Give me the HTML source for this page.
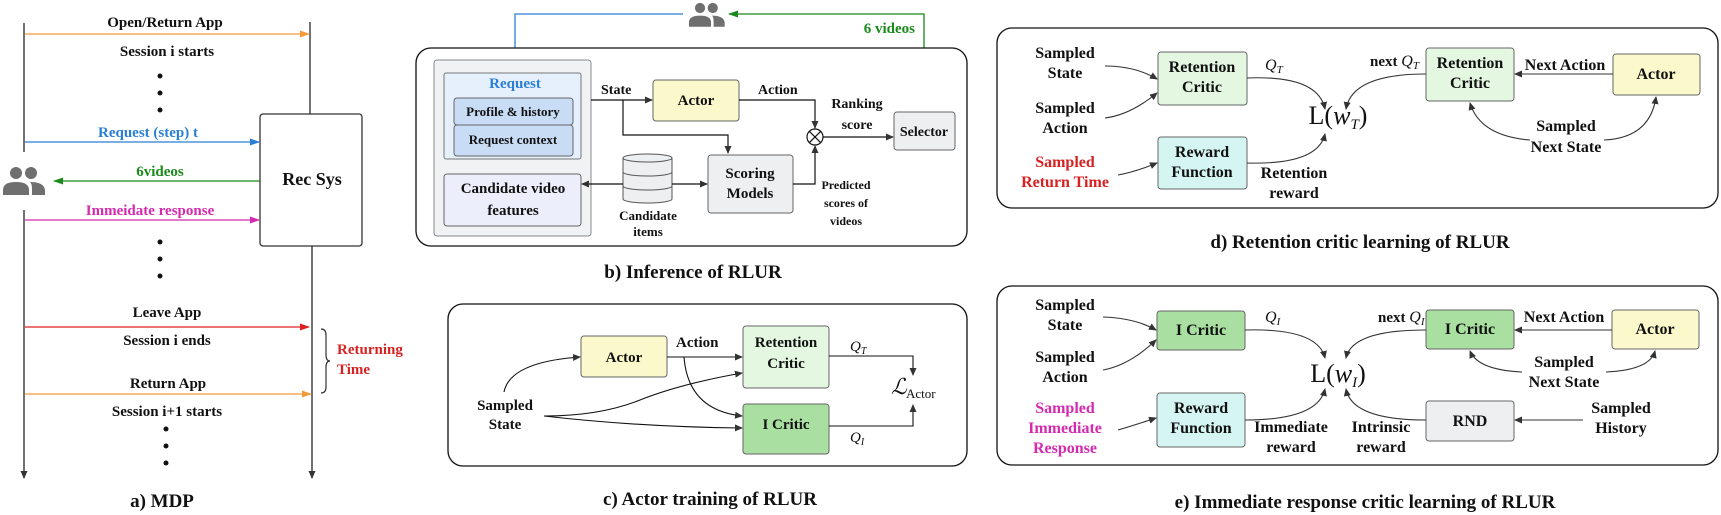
<!DOCTYPE html>
<html><head><meta charset="utf-8"><style>
html,body{margin:0;padding:0;background:#fff;}
svg{display:block;}
text{font-family:"Liberation Serif",serif;font-weight:bold;font-size:15px;fill:#111;}
.c{text-anchor:middle;}
.m{font-weight:normal;font-style:italic;}
.de text{font-size:16px;}
</style></head><body>
<svg width="1721" height="515" viewBox="0 0 1721 515" xmlns="http://www.w3.org/2000/svg">
<defs>
<marker id="ak" markerWidth="8" markerHeight="8" refX="7" refY="4" orient="auto" markerUnits="userSpaceOnUse"><path d="M0,0.5 L8,4 L0,7.5z" fill="#333"/></marker>
<marker id="ao" markerWidth="10" markerHeight="8" refX="9" refY="4" orient="auto" markerUnits="userSpaceOnUse"><path d="M0,0.5 L10,4 L0,7.5z" fill="#f39a3a"/></marker>
<marker id="ab" markerWidth="10" markerHeight="8" refX="9" refY="4" orient="auto" markerUnits="userSpaceOnUse"><path d="M0,0.5 L10,4 L0,7.5z" fill="#2a7fd6"/></marker>
<marker id="ag" markerWidth="10" markerHeight="8" refX="9" refY="4" orient="auto" markerUnits="userSpaceOnUse"><path d="M0,0.5 L10,4 L0,7.5z" fill="#1a8a1a"/></marker>
<marker id="am" markerWidth="10" markerHeight="8" refX="9" refY="4" orient="auto" markerUnits="userSpaceOnUse"><path d="M0,0.5 L10,4 L0,7.5z" fill="#d42ab0"/></marker>
<marker id="ar" markerWidth="10" markerHeight="8" refX="9" refY="4" orient="auto" markerUnits="userSpaceOnUse"><path d="M0,0.5 L10,4 L0,7.5z" fill="#e02020"/></marker>
<g id="usr" fill="#6f6f6f">
<circle cx="0" cy="0" r="6"/><circle cx="15" cy="0" r="6"/>
<path d="M-13,22 V17 Q-13,9 0,9 Q13,9 13,17 V22z"/>
<path d="M16,22 V17 Q16,10 14,9 Q28,9 29,17 V22z"/>
</g>
</defs>

<!-- Panel a -->
<g stroke="#444" stroke-width="1.5" fill="none">
<line x1="24" y1="23" x2="24" y2="152"/><line x1="24" y1="210" x2="24" y2="478" marker-end="url(#ak)"/>
<line x1="310" y1="22" x2="310" y2="114"/><line x1="312" y1="246" x2="312" y2="478" marker-end="url(#ak)"/>
</g>
<rect x="260" y="114" width="102" height="132" rx="3" fill="#fff" stroke="#333" stroke-width="1.3"/>
<text x="312" y="185" class="c" style="font-size:18px">Rec Sys</text>
<use href="#usr" x="16" y="173"/>
<line x1="25" y1="34" x2="309" y2="34" stroke="#f39a3a" stroke-width="1.3" marker-end="url(#ao)"/>
<line x1="25" y1="142" x2="259" y2="142" stroke="#2a7fd6" stroke-width="1.3" marker-end="url(#ab)"/>
<line x1="260" y1="181" x2="54" y2="181" stroke="#1a8a1a" stroke-width="1.3" marker-end="url(#ag)"/>
<line x1="25" y1="220" x2="259" y2="220" stroke="#d42ab0" stroke-width="1.3" marker-end="url(#am)"/>
<line x1="25" y1="327" x2="309" y2="327" stroke="#e02020" stroke-width="1.3" marker-end="url(#ar)"/>
<line x1="25" y1="394" x2="311" y2="394" stroke="#f39a3a" stroke-width="1.3" marker-end="url(#ao)"/>
<text x="165" y="27" class="c">Open/Return App</text>
<text x="167" y="56" class="c">Session i starts</text>
<text x="148" y="137" class="c" style="fill:#2a7fd6">Request (step) t</text>
<text x="160" y="176" class="c" style="fill:#1a8a1a">6videos</text>
<text x="150" y="215" class="c" style="fill:#d42ab0">Immeidate response</text>
<text x="167" y="317" class="c">Leave App</text>
<text x="167" y="345" class="c">Session i ends</text>
<text x="168" y="388" class="c">Return App</text>
<text x="167" y="416" class="c">Session i+1 starts</text>
<g fill="#111"><circle cx="160" cy="76" r="2.5"/><circle cx="160" cy="93" r="2.5"/><circle cx="160" cy="110" r="2.5"/>
<circle cx="160" cy="242" r="2.5"/><circle cx="160" cy="259" r="2.5"/><circle cx="160" cy="276" r="2.5"/>
<circle cx="166" cy="429" r="2.5"/><circle cx="166" cy="446" r="2.5"/><circle cx="166" cy="463" r="2.5"/></g>
<path d="M321,329 Q326,329 326,335 V355 Q326,361 330,361 Q326,361 326,367 V387 Q326,393 321,393" fill="none" stroke="#333" stroke-width="1.2"/>
<text x="337" y="354" style="fill:#d62222">Returning</text>
<text x="337" y="374" style="fill:#d62222">Time</text>
<text x="162" y="507" class="c" style="font-size:19px">a) MDP</text>

<!-- Panel b -->
<use href="#usr" transform="translate(700,8) scale(0.85)"/>
<polyline points="683,14 515,14 515,67" fill="none" stroke="#2a7fd6" stroke-width="1.3" marker-end="url(#ab)"/>
<polyline points="924,112 924,14 729,14" fill="none" stroke="#1a8a1a" stroke-width="1.3" marker-end="url(#ag)"/>
<text x="915" y="33" style="fill:#1a8a1a;text-anchor:end">6 videos</text>
<rect x="416" y="48" width="551" height="198" rx="15" fill="#fff" stroke="#111" stroke-width="1.3"/>
<rect x="434" y="60" width="157" height="176" rx="3" fill="#f1f2f4" stroke="#888"/>
<rect x="444" y="73" width="137" height="86" rx="2" fill="#e6f0fc" stroke="#777"/>
<text x="515" y="88" class="c" style="fill:#2a7fd6">Request</text>
<rect x="454" y="98" width="119" height="27" rx="3" fill="#c9dcf5" stroke="#666"/>
<rect x="454" y="125" width="119" height="31" rx="3" fill="#c9dcf5" stroke="#666"/>
<text x="513" y="116" class="c" style="font-size:13px">Profile &amp; history</text>
<text x="513" y="144" class="c" style="font-size:13px">Request context</text>
<rect x="444" y="174" width="137" height="52" rx="3" fill="#eceefb" stroke="#666"/>
<text x="513" y="193" class="c">Candidate video</text>
<text x="513" y="215" class="c">features</text>
<text x="601" y="94" style="font-size:14px">State</text>
<line x1="591" y1="100" x2="652" y2="100" stroke="#111" stroke-width="1.2" marker-end="url(#ak)"/>
<rect x="653" y="80" width="86" height="41" rx="3" fill="#fbf8cc" stroke="#666"/>
<text x="696" y="105" class="c">Actor</text>
<text x="758" y="94" style="font-size:14px">Action</text>
<polyline points="739,100 815,100 815,128" fill="none" stroke="#111" stroke-width="1.2" marker-end="url(#ak)"/>
<polyline points="623,100 623,135 728,135 728,153" fill="none" stroke="#111" stroke-width="1.2" marker-end="url(#ak)"/>
<circle cx="815" cy="137" r="8" fill="#fff" stroke="#111" stroke-width="1.2"/>
<path d="M809.3,131.3 L820.7,142.7 M820.7,131.3 L809.3,142.7" stroke="#111" stroke-width="1.2"/>
<rect x="708" y="155" width="85" height="58" rx="3" fill="#eeeff1" stroke="#666"/>
<text x="750" y="178" class="c">Scoring</text>
<text x="750" y="198" class="c">Models</text>
<polyline points="793,184 815,184 815,146" fill="none" stroke="#111" stroke-width="1.2" marker-end="url(#ak)"/>
<text x="846" y="189" class="c" style="font-size:12px">Predicted</text>
<text x="846" y="207" class="c" style="font-size:12px">scores of</text>
<text x="846" y="225" class="c" style="font-size:12px">videos</text>
<text x="857" y="108" class="c" style="font-size:14px">Ranking</text>
<text x="857" y="129" class="c" style="font-size:14px">score</text>
<line x1="823" y1="137" x2="893" y2="137" stroke="#111" stroke-width="1.2" marker-end="url(#ak)"/>
<rect x="894" y="112" width="61" height="38" rx="3" fill="#eeeff1" stroke="#666"/>
<text x="924" y="136" class="c" style="font-size:14px">Selector</text>
<g fill="#eeeff1" stroke="#555" stroke-width="1">
<path d="M623,158 V199 A24.5,4 0 0 0 672,199 V158"/>
<ellipse cx="647.5" cy="158" rx="24.5" ry="4"/>
<path d="M623,172 A24.5,4 0 0 0 672,172 M623,186 A24.5,4 0 0 0 672,186" fill="none"/>
</g>
<line x1="623" y1="184" x2="582" y2="184" stroke="#111" stroke-width="1.2" marker-end="url(#ak)"/>
<line x1="672" y1="184" x2="707" y2="184" stroke="#111" stroke-width="1.2" marker-end="url(#ak)"/>
<text x="648" y="220" class="c" style="font-size:13px">Candidate</text>
<text x="648" y="236" class="c" style="font-size:13px">items</text>
<text x="693" y="278" class="c" style="font-size:19px">b) Inference of RLUR</text>

<!-- Panel c -->
<rect x="448" y="304" width="519" height="162" rx="15" fill="#fff" stroke="#111" stroke-width="1.3"/>
<rect x="581" y="336" width="86" height="41" rx="3" fill="#fbf8cc" stroke="#666"/>
<text x="624" y="362" class="c">Actor</text>
<text x="676" y="347">Action</text>
<rect x="743" y="326" width="86" height="62" rx="3" fill="#e3f7e1" stroke="#666"/>
<text x="786" y="347" class="c">Retention</text>
<text x="786" y="368" class="c">Critic</text>
<rect x="743" y="404" width="86" height="50" rx="3" fill="#a9dfa0" stroke="#666"/>
<text x="786" y="429" class="c">I Critic</text>
<text x="505" y="410" class="c">Sampled</text>
<text x="505" y="429" class="c">State</text>
<g fill="none" stroke="#111" stroke-width="1.1">
<line x1="667" y1="357" x2="742" y2="357" marker-end="url(#ak)"/>
<path d="M684,357 Q688,410 742,416" marker-end="url(#ak)"/>
<path d="M504,392 Q510,362 580,357" marker-end="url(#ak)"/>
<path d="M544,416 Q600,416 640,400 T742,373" marker-end="url(#ak)"/>
<path d="M544,416 Q640,427 742,428" marker-end="url(#ak)"/>
<polyline points="829,356 913,356 913,375" marker-end="url(#ak)"/>
<polyline points="829,426 913,426 913,405" marker-end="url(#ak)"/>
</g>
<text x="850" y="351" class="m" style="font-size:15px">Q<tspan style="font-size:10px" dy="3">T</tspan></text>
<text x="850" y="442" class="m" style="font-size:15px">Q<tspan style="font-size:10px" dy="3">I</tspan></text>
<text x="891" y="394" style="font-weight:normal;font-style:italic;font-size:22px">ℒ</text>
<text x="906" y="398" style="font-weight:normal;font-size:13px">Actor</text>
<text x="710" y="505" class="c" style="font-size:19px">c) Actor training of RLUR</text>

<!-- Panel d -->
<g class="de">
<rect x="997" y="28" width="721" height="180" rx="15" fill="#fff" stroke="#111" stroke-width="1.3"/>
<text x="1065" y="58" class="c">Sampled</text><text x="1065" y="78" class="c">State</text>
<text x="1065" y="113" class="c">Sampled</text><text x="1065" y="133" class="c">Action</text>
<text x="1065" y="167" class="c" style="fill:#d62222">Sampled</text><text x="1065" y="187" class="c" style="fill:#d62222">Return Time</text>
<rect x="1158" y="52" width="89" height="53" rx="3" fill="#e3f7e1" stroke="#666"/>
<text x="1202" y="72" class="c">Retention</text><text x="1202" y="92" class="c">Critic</text>
<rect x="1158" y="137" width="89" height="52" rx="3" fill="#d5f5f3" stroke="#666"/>
<text x="1202" y="157" class="c">Reward</text><text x="1202" y="177" class="c">Function</text>
<text x="1265" y="70" class="m">Q<tspan style="font-size:11px" dy="3">T</tspan></text>
<text x="1338" y="124" class="c" style="font-weight:normal;font-size:26px"><tspan>L(</tspan><tspan style="font-style:italic;font-size:26px">w</tspan><tspan style="font-size:15px;font-style:italic" dy="5">T</tspan><tspan dy="-5" style="font-size:26px">)</tspan></text>
<text x="1294" y="178" class="c">Retention</text><text x="1294" y="198" class="c">reward</text>
<text x="1370" y="66" style="font-size:15px">next <tspan class="m" style="font-size:16px">Q</tspan><tspan class="m" style="font-size:11px" dy="3">T</tspan></text>
<rect x="1426" y="48" width="88" height="53" rx="3" fill="#e3f7e1" stroke="#666"/>
<text x="1470" y="68" class="c">Retention</text><text x="1470" y="88" class="c">Critic</text>
<text x="1565" y="70" class="c">Next Action</text>
<rect x="1613" y="54" width="87" height="41" rx="3" fill="#fbf8cc" stroke="#666"/>
<text x="1656" y="79" class="c">Actor</text>
<text x="1566" y="131" class="c">Sampled</text><text x="1566" y="152" class="c">Next State</text>
<g fill="none" stroke="#333" stroke-width="1.1">
<path d="M1105,66 Q1135,66 1157,79" marker-end="url(#ak)"/>
<path d="M1105,118 Q1130,115 1157,93" marker-end="url(#ak)"/>
<path d="M1118,175 Q1135,172 1157,163" marker-end="url(#ak)"/>
<path d="M1247,78 Q1318,75 1325,109" marker-end="url(#ak)"/>
<path d="M1247,163 Q1318,165 1325,134" marker-end="url(#ak)"/>
<path d="M1426,74 Q1352,74 1346,109" marker-end="url(#ak)"/>
<line x1="1613" y1="74" x2="1515" y2="74" marker-end="url(#ak)"/>
<path d="M1530,140 Q1480,136 1470,103" marker-end="url(#ak)"/>
<path d="M1604,140 Q1650,138 1656,97" marker-end="url(#ak)"/>
</g>
</g>
<text x="1360" y="248" class="c" style="font-size:19px">d) Retention critic learning of RLUR</text>

<!-- Panel e -->
<g class="de">
<rect x="997" y="286" width="721" height="179" rx="15" fill="#fff" stroke="#111" stroke-width="1.3"/>
<text x="1065" y="310" class="c">Sampled</text><text x="1065" y="330" class="c">State</text>
<text x="1065" y="362" class="c">Sampled</text><text x="1065" y="382" class="c">Action</text>
<text x="1065" y="413" class="c" style="fill:#d42ab0">Sampled</text><text x="1065" y="433" class="c" style="fill:#d42ab0">Immediate</text><text x="1065" y="453" class="c" style="fill:#d42ab0">Response</text>
<rect x="1157" y="311" width="88" height="39" rx="3" fill="#a9dfa0" stroke="#666"/>
<text x="1201" y="335" class="c">I Critic</text>
<rect x="1157" y="393" width="88" height="54" rx="3" fill="#d5f5f3" stroke="#666"/>
<text x="1201" y="413" class="c">Reward</text><text x="1201" y="433" class="c">Function</text>
<text x="1265" y="322" class="m">Q<tspan style="font-size:11px" dy="3">I</tspan></text>
<text x="1338" y="382" class="c" style="font-weight:normal;font-size:26px"><tspan>L(</tspan><tspan style="font-style:italic;font-size:26px">w</tspan><tspan style="font-size:15px;font-style:italic" dy="5">I</tspan><tspan dy="-5" style="font-size:26px">)</tspan></text>
<text x="1291" y="432" class="c">Immediate</text><text x="1291" y="452" class="c">reward</text>
<text x="1381" y="432" class="c">Intrinsic</text><text x="1381" y="452" class="c">reward</text>
<text x="1378" y="322" style="font-size:15px">next <tspan class="m" style="font-size:16px">Q</tspan><tspan class="m" style="font-size:11px" dy="3">I</tspan></text>
<rect x="1426" y="310" width="88" height="39" rx="3" fill="#a9dfa0" stroke="#666"/>
<text x="1470" y="334" class="c">I Critic</text>
<text x="1564" y="322" class="c">Next Action</text>
<rect x="1612" y="310" width="87" height="39" rx="3" fill="#fbf8cc" stroke="#666"/>
<text x="1655" y="334" class="c">Actor</text>
<text x="1564" y="367" class="c">Sampled</text><text x="1564" y="387" class="c">Next State</text>
<rect x="1426" y="401" width="88" height="40" rx="3" fill="#eeeff1" stroke="#666"/>
<text x="1470" y="426" class="c">RND</text>
<text x="1621" y="413" class="c">Sampled</text><text x="1621" y="433" class="c">History</text>
<g fill="none" stroke="#333" stroke-width="1.1">
<path d="M1103,317 Q1135,318 1156,330" marker-end="url(#ak)"/>
<path d="M1103,370 Q1130,365 1156,340" marker-end="url(#ak)"/>
<path d="M1118,430 Q1135,425 1156,418" marker-end="url(#ak)"/>
<path d="M1245,330 Q1318,328 1325,358" marker-end="url(#ak)"/>
<path d="M1245,420 Q1318,420 1325,389" marker-end="url(#ak)"/>
<path d="M1426,330 Q1352,330 1346,358" marker-end="url(#ak)"/>
<path d="M1426,420 Q1352,420 1346,389" marker-end="url(#ak)"/>
<line x1="1612" y1="330" x2="1515" y2="330" marker-end="url(#ak)"/>
<line x1="1583" y1="420" x2="1515" y2="420" marker-end="url(#ak)"/>
<path d="M1522,372 Q1478,370 1470,351" marker-end="url(#ak)"/>
<path d="M1606,372 Q1650,370 1655,351" marker-end="url(#ak)"/>
</g>
</g>
<text x="1365" y="508" class="c" style="font-size:19px">e) Immediate response critic learning of RLUR</text>
</svg>
</body></html>
